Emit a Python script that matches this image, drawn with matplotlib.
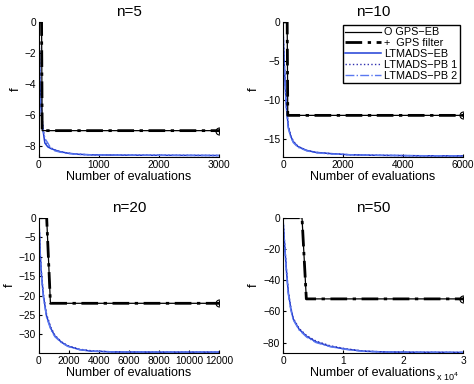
import matplotlib
matplotlib.use("Agg")
import matplotlib.pyplot as plt
from matplotlib.ticker import FuncFormatter

plt.rcParams['font.family'] = ['Liberation Sans', 'DejaVu Sans']

titles = ['n=5', 'n=10', 'n=20', 'n=50']

# GPS runs: flat at 0, then a drop to the final value
gps_x = [
    [0, 45, 55, 3000],
    [0, 140, 160, 6000],
    [0, 520, 770, 12000],
    [0, 3170, 3890, 30000],
]
gps_y = [
    [0, 0, -7, -7],
    [0, 0, -12, -12],
    [0, 0, -22, -22],
    [0, 0, -52, -52],
]

# LTMADS runs (EB, PB 1, PB 2)
mads_x = [
    [0, 10, 17, 30, 44, 70, 100, 150, 200, 267, 350, 483, 650, 900, 1500, 3000],
    [0, 15, 35, 67, 110, 178, 260, 344, 500, 789, 1100, 1567, 2200, 3000, 4500, 6000],
    [0, 50, 100, 180, 300, 512, 800, 1067, 1500, 1933, 2700, 3500, 5000, 8000, 12000],
    [0, 150, 333, 600, 889, 1300, 1722, 2700, 3944, 5500, 7833, 10500, 13389, 17000, 22000, 30000],
]
mads_y_eb = [
    [0, -2.2, -3.8, -5.0, -5.9, -7.0, -7.8, -8.05, -8.15, -8.25, -8.35, -8.45, -8.52, -8.56, -8.58, -8.6],
    [0, -2.5, -4.6, -7.5, -10.8, -13.5, -14.7, -15.4, -16.0, -16.5, -16.75, -16.9, -17.05, -17.12, -17.18, -17.2],
    [0, -5, -10, -15, -20, -25.3, -28.5, -30.4, -32.0, -33.0, -33.9, -34.3, -34.5, -34.55, -34.55],
    [0, -10, -20.5, -35, -48, -58, -65, -71.5, -76, -79.5, -82.4, -84.2, -85.5, -86.0, -86.2, -86.3],
]
mads_y_pb1 = [
    [0, -2.0, -3.5, -4.8, -5.7, -6.8, -7.6, -7.9, -8.1, -8.25, -8.35, -8.45, -8.52, -8.56, -8.58, -8.6],
    [0, -2.3, -4.4, -7.2, -10.5, -13.3, -14.6, -15.3, -16.0, -16.5, -16.75, -16.9, -17.05, -17.12, -17.18, -17.2],
    [0, -4.7, -9.6, -14.6, -19.6, -24.8, -28.2, -30.2, -31.9, -32.9, -33.8, -34.2, -34.5, -34.55, -34.55],
    [0, -9, -19.5, -34, -47, -57.5, -64.5, -71, -75.5, -79, -82.0, -84.0, -85.4, -86.0, -86.2, -86.3],
]
mads_y_pb2 = [
    [0, -2.3, -3.9, -5.1, -6.0, -7.0, -7.5, -7.8, -8.15, -8.3, -8.38, -8.47, -8.53, -8.56, -8.58, -8.6],
    [0, -2.6, -4.8, -7.7, -11.0, -13.7, -14.8, -15.5, -16.1, -16.55, -16.8, -16.95, -17.05, -17.12, -17.18, -17.2],
    [0, -5.2, -10.3, -15.3, -20.4, -25.6, -28.8, -30.6, -32.1, -33.1, -33.9, -34.3, -34.5, -34.55, -34.55],
    [0, -10.5, -21, -36, -49, -59, -65.5, -72, -76.5, -80, -82.6, -84.4, -85.6, -86.0, -86.2, -86.3],
]

xlims = [3000, 6000, 12000, 30000]
xticks = [[0, 1000, 2000, 3000], [0, 2000, 4000, 6000],
          [0, 2000, 4000, 6000, 8000, 10000, 12000], [0, 10000, 20000, 30000]]
ylims = [-8.7, -17.35, -34.75, -86.6]
yticks = [[0, -2, -4, -6, -8], [0, -5, -10, -15],
          [0, -5, -10, -15, -20, -25, -30], [0, -20, -40, -60, -80]]

fig = plt.figure(figsize=(4.74, 3.84), dpi=100)
positions = [
    [0.082, 0.591, 0.380, 0.352],
    [0.597, 0.591, 0.380, 0.352],
    [0.082, 0.081, 0.380, 0.352],
    [0.597, 0.081, 0.380, 0.352],
]

for i in range(4):
    ax = fig.add_axes(positions[i])
    ax.plot(mads_x[i], mads_y_eb[i], color='#1f3fd6', lw=1.1, label='LTMADS\u2212EB')
    ax.plot(mads_x[i], mads_y_pb1[i], color='#3030b0', lw=1.0, ls=':', label='LTMADS\u2212PB 1')
    ax.plot(mads_x[i], mads_y_pb2[i], color='#5a78f0', lw=1.0, ls='-.', label='LTMADS\u2212PB 2')
    ax.plot(gps_x[i], gps_y[i], color='black', lw=0.9, marker='o', markevery=[-1],
            ms=5, mfc='none', mew=0.8, label='O GPS\u2212EB')
    ax.plot(gps_x[i], gps_y[i], color='black', lw=2.0, ls=(0, (6, 2, 1.2, 2)), marker='+',
            markevery=[-1], ms=5, mew=0.8, label='+  GPS filter')

    ax.set_xlim(0, xlims[i])
    ax.set_ylim(ylims[i], 0)
    ax.set_xticks(xticks[i])
    ax.set_yticks(yticks[i])
    ax.spines['top'].set_visible(False)
    ax.spines['right'].set_visible(False)
    ax.tick_params(direction='in', length=2, labelsize=7.3, pad=2)
    ax.set_title(titles[i], fontsize=11, pad=4)
    ax.set_xlabel('Number of evaluations', fontsize=9, labelpad=1)
    ax.set_ylabel('f', fontsize=9.5, labelpad=2)
    ax.yaxis.set_major_formatter(FuncFormatter(lambda v, p: f"{v:g}".replace('-', '\u2212')))
    if i == 3:
        ax.xaxis.set_major_formatter(FuncFormatter(lambda v, p: f"{v / 10000:g}"))
        ax.text(0.91, -0.175, 'x 10$^4$', transform=ax.transAxes, fontsize=6.5,
                ha='center', va='center')
    if i == 1:
        handles, labels = ax.get_legend_handles_labels()
        order = [3, 4, 0, 1, 2]
        ax.legend([handles[k] for k in order], [labels[k] for k in order],
                  loc='upper right', bbox_to_anchor=(0.985, 0.98), fontsize=7.8,
                  frameon=True, fancybox=False, edgecolor='black', framealpha=1,
                  handlelength=3.3, handletextpad=0.3, borderpad=0.25,
                  labelspacing=0.08, borderaxespad=0)
        for line in ax.get_legend().get_lines():
            line.set_marker('')

fig.savefig('out.png', dpi=100)
